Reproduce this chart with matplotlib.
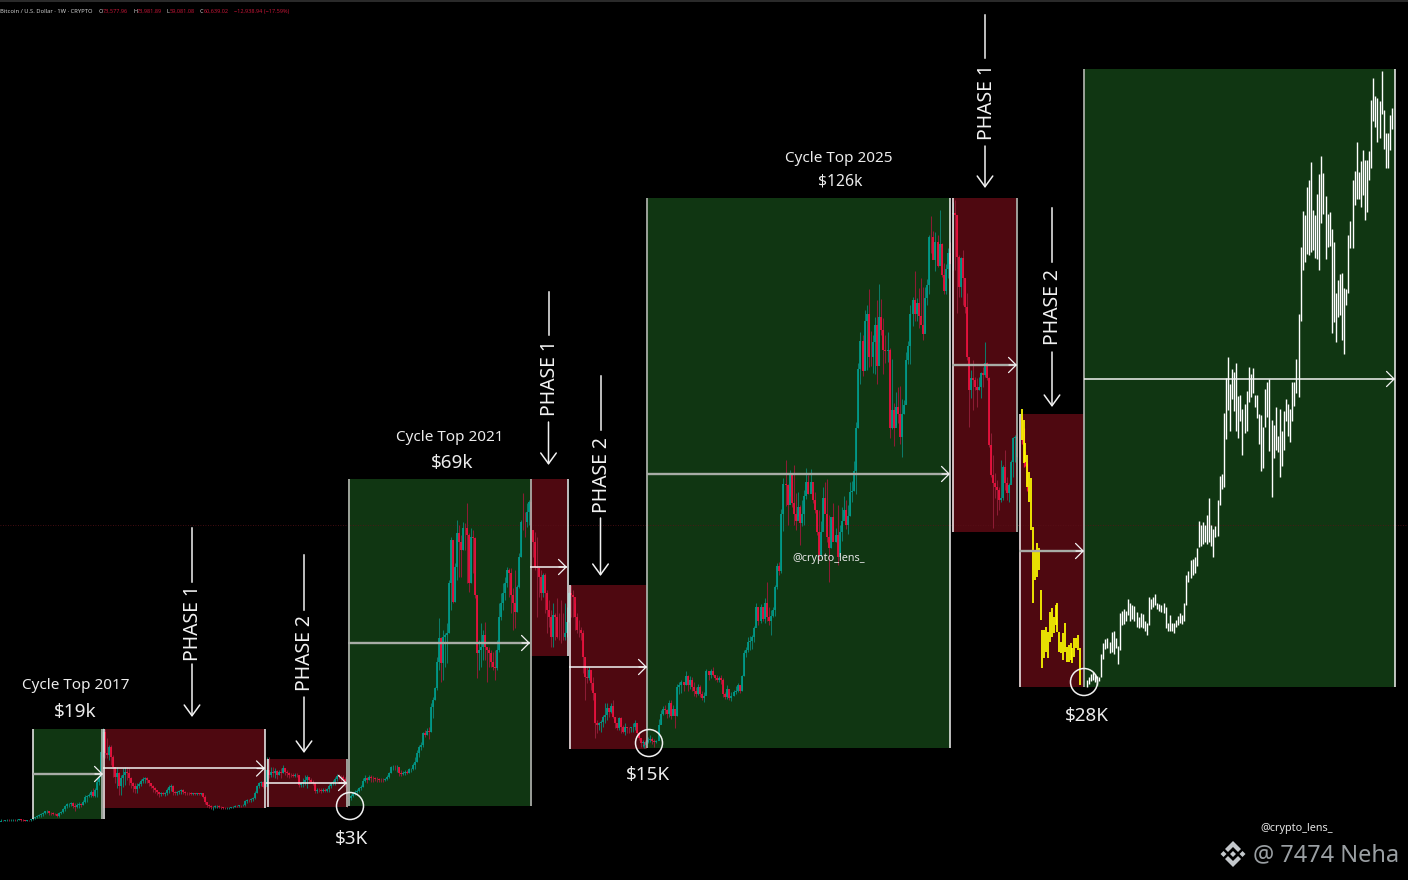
import matplotlib
matplotlib.use("Agg")
import matplotlib.pyplot as plt
import numpy as np
from matplotlib.patches import Circle, Polygon, Rectangle

plt.rcParams["font.family"] = ["Noto Sans", "DejaVu Sans"]

# chart levels. y runs downward like on the screen
early_hi = [478,479,479,478,478,478,478,477,477,476,476,478,479,479,479,477,
            474,470,466,463,460,456,452,450,452,456,457,458,458,455,452,445,435,430,428,425,425,430,430,425,
            430,420,405,405,400,390,385,385,355,345,270,205,208,235,255,255,285,320,320,335,
            345,325,322,322,325,350,365,370,370,365,358,352,350,352,360,368,375,380,390,395,
            397,395,397,385,375,372,375,392,393,390,387,388,394,396,397,397,398,398,398,398,
            398,398,405,425,432,435,438,435,434,435,438,440,442,442,441,440,438,436,436,434,
            434,433,420,418,418,415,412,392,375,365,362,362,365,290,290,320,320,325,330,330,
            325,315,325,330,335,340,340,340,338,345,365,355,345,345,350,355,360,368,385,385,
            385,385,385,385,372,365,360,350,342,342,345,345,350,370]
early_lo = [484,484,484,483,483,482,482,482,482,481,483,484,484,483,483,482,
            480,477,474,472,470,468,463,460,464,464,464,465,472,472,462,458,452,445,442,438,445,452,445,445,
            442,435,430,425,412,412,410,412,410,375,352,290,295,295,300,315,350,370,385,405,
            405,380,375,360,375,385,395,398,400,385,378,370,368,370,378,385,395,398,405,410,
            408,405,408,405,398,392,405,405,405,403,402,402,404,404,404,404,404,404,404,404,
            404,415,432,442,445,448,450,445,445,445,447,447,447,447,446,445,444,442,442,440,
            440,438,438,428,425,425,422,418,400,385,378,385,385,360,355,350,350,355,358,345,
            355,340,345,350,355,352,352,352,350,382,382,380,375,385,368,370,375,400,398,395,
            398,395,395,395,395,385,375,375,362,358,365,370,380,440]
early_close = [482,482,481,480,481,480,479,480,479,478,481,481,482,481,481,478,
               475,472,468,465,462,458,454,452,460,460,461,462,468,458,455,448,438,433,431,430,438,440,435,432,
               435,425,410,408,405,395,408,390,365,350,275,215,280,285,262,290,320,350,340,378,
               355,345,335,340,355,370,378,388,378,372,362,358,355,360,368,378,385,390,395,402,
               400,402,398,390,380,378,395,398,395,393,390,395,398,399,400,401,400,401,400,401,
               400,410,425,435,438,442,440,438,437,440,442,444,445,444,443,441,440,438,438,436,
               436,435,422,420,420,418,414,398,378,368,365,380,380,330,345,335,338,332,345,335,
               340,325,335,340,345,345,348,345,345,375,370,365,360,352,360,365,368,392,390,390,
               392,390,392,388,378,370,365,358,348,350,352,358,370,420]

mid_hi = [975,972,965,960,958,950,945,925,915,920,915,915,918,920,922,925,925,925,925,915,
          905,888,885,885,885,890,900,902,900,900,895,895,880,860,840,825,815,785,780,775,
          772,700,680,650,560,445,500,480,490,460,330,200,210,280,150,165,195,155,160,100,
          190,175,180,200,375,510,460,480,455,530,530,540,545,540,510,400,370,340,320,290,
          295,295,355,300,345,250,150,70,125,100,90,90,180,185,200,290,300,310,310,360,
          390,420,400,430,385,430,390,430,400,410,365,345,360,400,430,450,470,480,560,590,
          590,600,620,670,750,755,750,735,700,700,720,700,690,740,765,740,740,765,760,770,
          770,770,760,750,780,790,810,810,810]
mid_lo = [1005,990,980,975,972,965,960,950,935,940,930,935,935,932,935,935,935,935,932,930,
          925,910,900,900,905,918,918,915,915,912,910,905,900,898,875,860,840,830,800,795,
          808,785,745,690,660,600,635,630,590,580,490,420,400,395,330,320,320,240,240,340,
          365,340,310,385,625,600,590,570,570,635,590,590,600,630,600,545,450,420,390,350,
          380,430,480,475,425,355,260,180,200,170,165,210,260,300,440,380,390,380,430,490,
          470,530,530,510,505,510,520,510,510,500,455,440,440,480,490,500,510,610,690,640,
          630,660,690,805,790,780,785,770,760,750,740,730,745,775,780,780,790,790,795,790,
          790,785,785,780,800,810,830,830,835]
mid_close = [985,978,970,965,962,955,950,932,925,930,922,925,925,928,928,930,930,930,928,922,
             908,892,890,892,890,910,912,908,905,908,898,897,885,875,850,830,825,790,795,782,
             785,710,690,655,575,505,580,500,495,490,340,210,395,290,190,215,240,175,175,195,
             340,200,205,375,550,540,530,495,530,540,550,575,590,595,540,440,400,370,340,300,
             310,375,400,425,350,260,155,155,155,125,95,180,215,290,295,320,370,315,370,420,
             440,500,435,440,500,500,500,500,490,455,370,375,380,440,480,480,490,560,620,625,
             600,640,670,760,765,760,755,740,735,715,725,708,740,760,775,745,770,785,770,775,
             775,772,770,760,790,805,820,815,825]

# same fractal drawn twice: candles in the 2025 box, white bars in the projection
cycle_hi = [1520,1512,1505,1500,1505,1510,1512,1455,1428,1418,1415,1425,1402,1400,1415,1436,1356,1350,1346,1350,
            1320,1330,1335,1338,1352,1365,1355,1358,1375,1380,1315,1320,1315,1308,1330,1332,1335,1330,1340,1380,
            1360,1380,1380,1372,1362,1354,1360,1330,1262,1252,1225,1222,1218,1195,1130,1140,1132,1140,1115,1072,
            1140,1150,1142,1078,1018,1015,865,780,728,795,758,765,742,822,820,855,842,812,752,770,
            755,820,820,868,870,900,805,790,782,882,895,850,920,855,910,860,830,842,855,790,
            788,732,622,458,370,380,310,295,250,368,380,328,280,236,278,332,378,372,415,445,
            570,540,525,522,558,560,428,395,295,272,200,275,248,220,245,245,222,98,45,88,
            92,100,28,122,178,180,135,118]
cycle_lo = [1535,1530,1522,1520,1525,1532,1522,1512,1468,1442,1440,1452,1450,1455,1440,1480,1445,1385,1382,1375,
            1360,1375,1370,1375,1390,1392,1388,1392,1400,1408,1385,1345,1340,1335,1345,1350,1352,1355,1392,1398,
            1398,1400,1405,1390,1385,1380,1382,1375,1335,1280,1268,1262,1258,1240,1192,1190,1185,1180,1185,1180,
            1190,1218,1168,1166,1090,1050,1046,928,858,910,830,860,910,925,885,968,915,910,838,825,
            815,850,878,940,1008,1000,900,875,958,1070,975,955,960,1022,995,955,885,922,935,885,
            848,815,825,640,515,495,475,478,470,465,485,488,515,400,378,488,458,455,668,642,
            690,630,625,685,720,600,572,460,460,355,340,340,360,330,392,372,295,265,150,165,
            200,190,132,218,265,265,220,168]
cycle_close = [1528,1520,1512,1510,1515,1520,1515,1470,1440,1425,1430,1440,1410,1445,1425,1445,1365,1360,1350,1360,
               1335,1360,1345,1365,1375,1385,1365,1385,1395,1390,1320,1330,1320,1330,1340,1345,1340,1345,1385,1392,
               1370,1395,1390,1380,1375,1360,1375,1335,1270,1262,1240,1235,1225,1200,1140,1180,1140,1175,1130,1170,
               1180,1165,1150,1085,1025,1040,880,795,800,855,770,850,880,900,860,905,880,830,790,825,
               790,840,870,930,995,930,835,880,945,975,890,960,940,1000,930,900,870,910,885,820,
               815,760,640,475,395,480,340,320,440,440,400,350,465,330,365,420,425,420,640,590,
               640,580,600,665,600,575,450,410,320,280,320,290,325,350,375,275,240,105,105,170,
               120,185,125,210,255,195,150,180]

fall_hi = [35,30,75,195,200,180,265,310,500,540,510,560,565,560,545,530,455,515,560,730,795,850,870,890,810,825,780,860,880,810,740,735,730]
fall_lo = [240,240,370,320,320,345,370,510,710,625,660,600,650,600,625,590,560,570,770,860,1015,925,975,960,935,930,900,930,935,880,860,815,800]
fall_close = [70,75,200,290,205,265,350,500,600,565,570,590,600,590,550,555,520,565,765,855,880,890,900,930,925,830,880,910,885,815,745,740,800]

yellow_hi = [658,690,760,795,845,865,1010,1085,1060,1075,1200,1320,1320,1310,1325,1265,1255,1280,1245,1240,1325,1355,1330,1300,1370,1365,1360,1375,1345,1345,1335,1375]
yellow_lo = [750,820,815,890,935,1020,1240,1170,1160,1140,1290,1435,1405,1385,1405,1355,1340,1330,1305,1325,1385,1390,1410,1385,1415,1415,1410,1420,1400,1375,1380,1485]

box_left = [33, 103, 266, 348, 530, 569, 647, 952, 1019, 1084]
box_right = [103, 265, 347, 530, 567, 647, 950, 1017, 1084, 1395]
box_top = [729, 729, 759, 479, 479, 585, 198, 198, 414, 69]
box_bottom = [819, 808, 807, 806, 656, 749, 748, 532, 687, 687]
box_kind = ["up", "down", "down", "up", "down", "down", "up", "down", "down", "up"]
mid_level = [774, 768.5, 783, 643, 567, 667, 474, 365, 551, 379]
mid_tone = ["g", "w", "w", "g", "w", "w", "g", "g", "g", "w"]

TEAL, RED = "#009c8c", "#f0113f"
TEAL_WICK, RED_WICK = "#0c7a68", "#8c1c34"
GRAY, WHITE = "#a8aca6", "#f2f2f2"


def draw_candles(ax, x0, x1, hi, lo, close, y0, per_px=3):
    # per_px levels make one pixel, y0 is where level 0 sits on the canvas
    x = np.linspace(x0, x1, len(close))
    hi, lo, close = [y0 + np.array(v) / per_px for v in (hi, lo, close)]
    opens = np.r_[close[0] + 1, close[:-1]]
    up = close < opens
    ax.vlines(x[up], hi[up], lo[up], color=TEAL_WICK, lw=0.75, zorder=3)
    ax.vlines(x[~up], hi[~up], lo[~up], color=RED_WICK, lw=0.75, zorder=3)
    ax.vlines(x[up], close[up], opens[up], color=TEAL, lw=1.25, zorder=4)
    ax.vlines(x[~up], opens[~up], close[~up], color=RED, lw=1.25, zorder=4)


def phase_label(ax, x, name, top, gap1, mid, gap2, tip):
    ax.plot([x, x], [top, gap1], color=WHITE, lw=1.1, zorder=6)
    ax.text(x + 1.5, mid, name, color=WHITE, fontsize=14, rotation=90, ha="center", va="center", zorder=6)
    ax.annotate("", xy=(x, tip), xytext=(x, gap2), zorder=6,
                arrowprops=dict(arrowstyle="->,head_length=0.55,head_width=0.4", color=WHITE, lw=1.1,
                                mutation_scale=14, shrinkA=0, shrinkB=0))


fig = plt.figure(figsize=(14.08, 8.8), dpi=100, facecolor="black")
ax = fig.add_axes([0, 0, 1, 1], facecolor="black")
ax.set_xlim(0, 1408)
ax.set_ylim(880, 0)
ax.axis("off")

ax.add_patch(Rectangle((0, 0), 1408, 2, color="#2a2a2a", lw=0))
ax.plot([0, 1408], [525.5, 525.5], color="#5a1018", lw=0.6, ls=(0, (1, 2)), zorder=2.5)

# boxes
for l, r, t, b, kind in zip(box_left, box_right, box_top, box_bottom, box_kind):
    ax.add_patch(Rectangle((l, t), r - l, b - t, lw=0, zorder=1,
                           color="#103612" if kind == "up" else "#4e0810"))

# box edges
ax.vlines([33, 104, 265, 267.5, 567.5, 569.5, 950, 952.5, 1019.5, 1395],
          [729, 729, 729, 759, 479, 585, 198, 198, 414, 69],
          [819, 819, 808, 807, 656, 749, 748, 532, 687, 687], color=WHITE, lw=1.1, zorder=5)
ax.vlines([102, 347, 348.5, 530.5, 647, 1017, 1084],
          [729, 759, 479, 479, 198, 198, 69],
          [819, 807, 806, 806, 748, 532, 687], color=GRAY, lw=1.3, zorder=5)

draw_candles(ax, 1, 347, early_hi, early_lo, early_close, 660)
draw_candles(ax, 349.3, 645.3, mid_hi, mid_lo, mid_close, 470)
draw_candles(ax, 644, 950, cycle_hi, cycle_lo, cycle_close, 199.6, per_px=2.8)
draw_candles(ax, 953, 1016.7, fall_hi, fall_lo, fall_close, 190)

x_yellow = np.linspace(1021.7, 1080, len(yellow_hi))
ax.vlines(x_yellow[:4], 190 + np.array(yellow_hi[:4]) / 3 + 8, 190 + np.array(yellow_lo[:4]) / 3 + 4,
          color=RED, lw=0.9, zorder=3.5)
ax.vlines(x_yellow, 190 + np.array(yellow_hi) / 3, 190 + np.array(yellow_lo) / 3, color="#ffff00", lw=1.25, zorder=4)

x_white = np.linspace(1086.7, 1392, len(cycle_hi))
ax.vlines(x_white, 60 + np.array(cycle_hi) / 2.45, 60 + np.array(cycle_lo) / 2.45, color="#ffffff", lw=1.0, zorder=4)

# mid lines with open arrow tip
for l, r, y, tone in zip(box_left, box_right, mid_level, mid_tone):
    ax.plot([l, r], [y, y], color=GRAY if tone == "g" else WHITE, lw=1.7 if tone == "g" else 1.1,
            solid_capstyle="butt", zorder=6)
    ax.annotate("", xy=(r, y), xytext=(r - 8, y), zorder=6,
                arrowprops=dict(arrowstyle="->,head_length=0.42,head_width=0.42", color=WHITE,
                                lw=0.9, mutation_scale=13, shrinkA=0, shrinkB=0))

phase_label(ax, 192, "PHASE 1", 528, 582, 623, 664, 717)
phase_label(ax, 304, "PHASE 2", 555, 610, 653, 697, 753)
phase_label(ax, 548.5, "PHASE 1", 292, 335, 378, 422, 465)
phase_label(ax, 600.5, "PHASE 2", 376, 430, 475, 518, 576)
phase_label(ax, 985, "PHASE 1", 15, 58, 102, 146, 188)
phase_label(ax, 1052, "PHASE 2", 208, 262, 307, 352, 407)

for cx, cy in [(350, 806), (649, 743), (1084, 682)]:
    ax.add_patch(Circle((cx, cy), 13.5, fill=False, ec=WHITE, lw=1.1, zorder=7))

ax.set_aspect("equal")

for x, y, s, fs in [(76, 685.5, "Cycle Top 2017", 11), (75.5, 712, "$19k", 13.6),
                    (449.5, 437.5, "Cycle Top 2021", 11), (452, 463, "$69k", 13.6),
                    (839, 158.5, "Cycle Top 2025", 11), (840, 181, "$126k", 11.3),
                    (351.5, 839, "$3K", 13.6), (647.5, 775, "$15K", 13.6), (1086.5, 716, "$28K", 13.6)]:
    ax.text(x, y, s, color="#ececec", fontsize=fs, ha="center", va="center", zorder=8)

ax.text(829, 558.5, "@crypto_lens_", color="#e6e6e6", fontsize=7.8, ha="center", va="center", zorder=8)
ax.text(1297, 828.5, "@crypto_lens_", color="#e6e6e6", fontsize=7.8, ha="center", va="center", zorder=8)
ax.text(1326.5, 855, "@ 7474 Neha", color="#9a9fa3", fontsize=17, ha="center", va="center", zorder=8)

# binance style mark
LOGO = "#c4c8cc"
for dx, dy in [(-9.5, 0), (9.5, 0), (0, 0)]:
    ax.add_patch(Polygon([(1233 + dx - 3, 854 + dy), (1233 + dx, 851 + dy), (1233 + dx + 3, 854 + dy), (1233 + dx, 857 + dy)],
                         color=LOGO, lw=0, zorder=8))
ax.add_patch(Polygon([(1233, 841), (1241, 849), (1238, 852), (1233, 847), (1228, 852), (1225, 849)], color=LOGO, lw=0, zorder=8))
ax.add_patch(Polygon([(1233, 867), (1241, 859), (1238, 856), (1233, 861), (1228, 856), (1225, 859)], color=LOGO, lw=0, zorder=8))

# header strip
HEAD_RED = "#c01535"
ax.text(0, 11, "Bitcoin / U.S. Dollar · 1W · CRYPTO", color="#d0d0d0", fontsize=4.2, va="center", zorder=8)
for x, s, col in [(99, "O", "#d0d0d0"), (103, "73,577.96", HEAD_RED), (133, "H", "#d0d0d0"), (137, "73,981.89", HEAD_RED),
                  (166.5, "L", "#d0d0d0"), (170, "59,081.08", HEAD_RED), (200, "C", "#d0d0d0"), (204, "60,639.02", HEAD_RED),
                  (234, "−12,938.94 (−17.59%)", HEAD_RED)]:
    ax.text(x, 11, s, color=col, fontsize=4.0, va="center", zorder=8)

fig.savefig("out.png", dpi=100, facecolor="black")
